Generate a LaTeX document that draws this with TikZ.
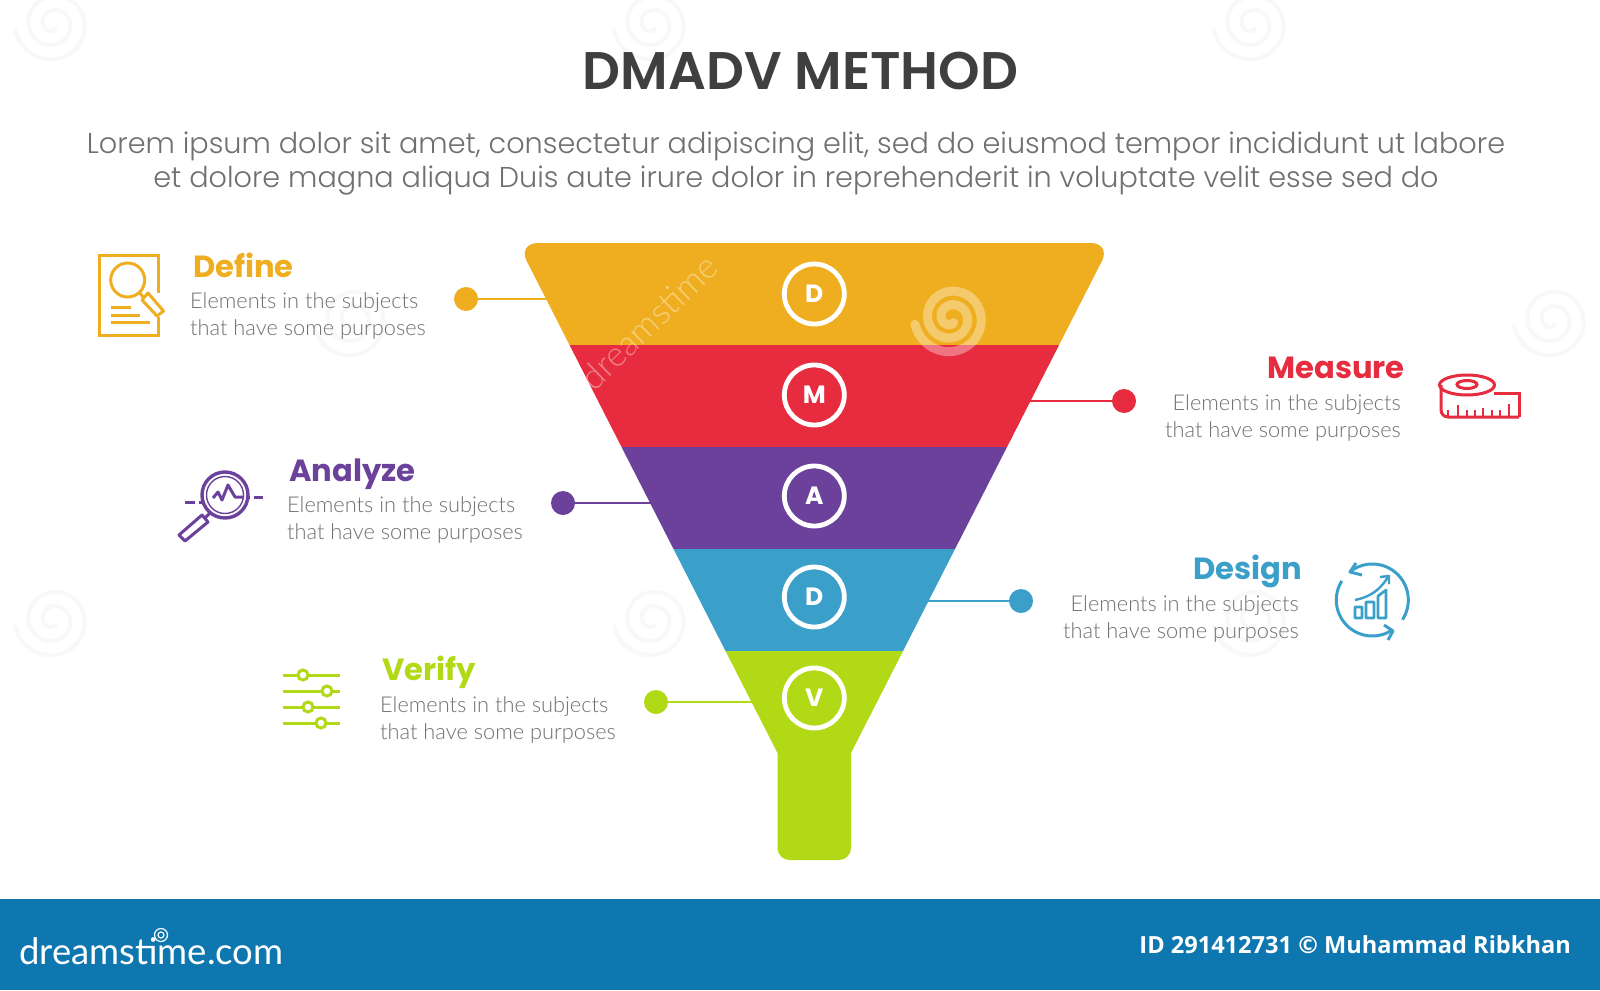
\documentclass[tikz,border=0pt]{standalone}
\usepackage{fontspec}
\setmainfont{Lato}
\newfontfamily\ptitle{Poppins}[UprightFont=* SemiBold]
\newfontfamily\phead{Poppins}[UprightFont=* Bold]
\newfontfamily\psub{Poppins}[UprightFont=* Light]
\newfontfamily\lbody{Lato}[UprightFont=* Light]
\newfontfamily\osans{Open Sans}[UprightFont=* Bold]
\definecolor{cDefine}{HTML}{EFAE1F}
\definecolor{cMeasure}{HTML}{E62C3E}
\definecolor{cAnalyze}{HTML}{6C419B}
\definecolor{cDesign}{HTML}{3A9FC9}
\definecolor{cVerify}{HTML}{B2D916}
\definecolor{cBar}{HTML}{0E77B0}
\definecolor{cTitle}{HTML}{3F3F3F}
\definecolor{cText}{HTML}{707070}
\definecolor{cFaint}{HTML}{F8F8F8}
\newcommand{\wmspiral}[4]{% x, y, scale, style
  \draw[#4,line cap=round,line join=round] plot[domain=0:830,samples=70,smooth] ({#1+#3*(5+0.036*\x)*cos(\x+60)},{#2+#3*(5+0.036*\x)*sin(\x+60)});}
\tikzset{
  x=1pt,y=-1pt,
  titletext/.style={font=\ptitle\fontsize{52.9}{52.9}\selectfont,text=cTitle,inner sep=0pt},
  subtext/.style={font=\psub\fontsize{28.7}{34.8}\selectfont,text=cText,inner sep=0pt,align=center},
  heading/.style={font=\phead\fontsize{30.6}{30.6}\selectfont,inner sep=0pt},
  bodyL/.style={font=\lbody\fontsize{21.8}{27}\selectfont,text=cText,inner sep=0pt,align=left,anchor=west},
  bodyR/.style={font=\lbody\fontsize{21.8}{27}\selectfont,text=cText,inner sep=0pt,align=right,anchor=east},
  badge/.style={circle,draw=white,line width=4.8pt,minimum size=60pt,inner sep=0pt,font=\phead\fontsize{25}{25}\selectfont,text=white},
  dot/.style={circle,fill=#1,minimum size=24pt,inner sep=0pt},
  link/.style={draw=#1,line width=2.8pt},
  icon/.style={draw=#1,line width=3pt,fill=none},
  faintspiral/.style={draw=cFaint,line width=4pt},
}
\begin{document}
\begin{tikzpicture}
\useasboundingbox (0,0) rectangle (1600,990);
\fill[white] (0,0) rectangle (1600,990);
% faint watermark spirals
\foreach \wx/\wy in {53/24,652/24,1252/24,352/320,1552/320,53/620,652/620,1252/620}{\wmspiral{\wx}{\wy}{1.1}{faintspiral}}
\node[titletext] (title) at (800.5,71) {DMADV METHOD};
\node[subtext] (sub) at (796,163.5) {Lorem ipsum dolor sit amet, consectetur adipiscing elit, sed do eiusmod tempor incididunt ut labore\\et dolore magna aliqua Duis aute irure dolor in reprehenderit in voluptate velit esse sed do};
% funnel
\begin{scope}
\clip (538,243) -- (1090.6,243) .. controls (1101.6,243) and (1107,251) .. (1102,260.8) -- (851,753) -- (851,848) .. controls (851,854.6) and (845.6,860) .. (839,860) -- (789.5,860) .. controls (782.9,860) and (777.5,854.6) .. (777.5,848) -- (777.5,753) -- (526.6,260.8) .. controls (521.6,251) and (527,243) .. (538,243) -- cycle;
\fill[cDefine] (500,240) rectangle (1120,345);
\fill[cMeasure] (500,345) rectangle (1120,447);
\fill[cAnalyze] (500,447) rectangle (1120,549);
\fill[cDesign] (500,549) rectangle (1120,651);
\fill[cVerify] (500,651) rectangle (1120,865);
% funnel watermark
\node[font=\lbody\fontsize{35}{35}\selectfont,text=white,text opacity=.4,rotate=44,inner sep=0pt] (wm) at (649,322) {dreamstime};
\wmspiral{951}{318}{1.05}{draw=white,draw opacity=.35,line width=9pt}
\end{scope}
\node[badge] (bD) at (814.3,294) {D};
\node[badge] (bM) at (814.3,395) {M};
\node[badge] (bA) at (814.3,496) {A};
\node[badge] (bE) at (814.3,597) {D};
\node[badge] (bV) at (814.3,698) {V};
% connectors
\node[dot=cDefine] (dD) at (466,299) {};
\coordinate (eD) at (549,299);
\draw[link=cDefine] (dD) -- (eD);
\node[dot=cMeasure] (dM) at (1124,401) {};
\coordinate (eM) at (1028,401);
\draw[link=cMeasure] (dM) -- (eM);
\node[dot=cAnalyze] (dA) at (563,503) {};
\coordinate (eA) at (652,503);
\draw[link=cAnalyze] (dA) -- (eA);
\node[dot=cDesign] (dE) at (1021,601) {};
\coordinate (eE) at (926,601);
\draw[link=cDesign] (dE) -- (eE);
\node[dot=cVerify] (dV) at (656,702) {};
\coordinate (eV) at (753,702);
\draw[link=cVerify] (dV) -- (eV);
% labels
\node[heading,text=cDefine,anchor=base west] (hD) at (193,277) {Define};
\node[bodyL] (tD) at (190,316) {Elements in the subjects\\that have some purposes};
\node[heading,text=cMeasure,anchor=base east] (hM) at (1405,378) {Measure};
\node[bodyR] (tM) at (1401,418) {Elements in the subjects\\that have some purposes};
\node[heading,text=cAnalyze,anchor=base west] (hA) at (289,481) {Analyze};
\node[bodyL] (tA) at (287,520) {Elements in the subjects\\that have some purposes};
\node[heading,text=cDesign,anchor=base east] (hE) at (1302,579) {Design};
\node[bodyR] (tE) at (1299,619) {Elements in the subjects\\that have some purposes};
\node[heading,text=cVerify,anchor=base west] (hV) at (382,680) {Verify};
\node[bodyL] (tV) at (380,720) {Elements in the subjects\\that have some purposes};
% Define icon
\draw[icon=cDefine] (158,293) -- (158,255) -- (99,255) -- (99,335) -- (158,335) -- (158,317);
\draw[icon=cDefine] (127.7,280) circle (17);
\draw[icon=cDefine] (140,293) -- (143,297);
\draw[icon=cDefine,line join=round] (148,293) -- (163.5,311) -- (157,316) -- (142,300) -- cycle;
\draw[icon=cDefine] (111,307) -- (131,307) (111,315) -- (140,315) (111,322) -- (150,322);
% Analyze icon
\draw[icon=cAnalyze,line width=3.4pt] (225,495) circle (23);
\draw[icon=cAnalyze,line width=1.4pt] (225,495) circle (18.5);
\draw[icon=cAnalyze,line join=round] (213,498) -- (218,492) -- (222,500) -- (228,485) -- (235,497) -- (244,497);
\draw[icon=cAnalyze] (185,502) -- (195,502) (199,502) -- (204,502) (246,497) -- (250,497) (254,497) -- (263,497);
\draw[icon=cAnalyze] (205,518) -- (211,512);
\draw[icon=cAnalyze,line join=round] (179,535) -- (202,515) -- (208,522) -- (185,541) -- cycle;
% Measure icon
\draw[icon=cMeasure] (1467,385) ellipse (27.5 and 10);
\draw[icon=cMeasure] (1467,384.5) ellipse (10 and 4);
\draw[icon=cMeasure,rounded corners=7pt] (1441,385) -- (1441,417) -- (1519,417);
\draw[icon=cMeasure] (1494,393) -- (1519,393) -- (1519,417);
\draw[icon=cMeasure,line width=2pt] (1448,417) -- (1448,410) (1458,417) -- (1458,405) (1467,417) -- (1467,410) (1475,417) -- (1475,410) (1483,417) -- (1483,408) (1492,417) -- (1492,410) (1500,417) -- (1500,410) (1509,417) -- (1509,404);
% Design icon
\draw[icon=cDesign] plot[domain=-128:33,samples=40] ({1372.3+36*cos(\x)},{600+36*sin(\x)});
\draw[icon=cDesign] plot[domain=58:212,samples=40] ({1372.3+36*cos(\x)},{600+36*sin(\x)});
\draw[icon=cDesign,line join=round] (1356,563) -- (1350,572) -- (1362,575);
\draw[icon=cDesign,line join=round] (1384,625) -- (1393,631) -- (1388,640);
\draw[icon=cDesign,line width=2.6pt,line join=round] (1355,607) rectangle (1362,618) (1366,602) rectangle (1374,618) (1378,596) -- (1386,590) -- (1386,618) -- (1378,618) -- cycle;
\draw[icon=cDesign,line width=2.4pt] (1355,600) .. controls (1370,597) and (1380,590) .. (1388,577);
\draw[icon=cDesign,line width=2.4pt,line join=round] (1380,577) -- (1389,576) -- (1389,584);
% Verify icon
\draw[icon=cVerify] (283,675) -- (340,675) (283,691) -- (340,691) (283,707) -- (340,707) (283,723) -- (340,723);
\foreach \px/\py in {303/675,327/691,308/707,321/723}{\draw[icon=cVerify,fill=white] (\px,\py) circle (5);}
% footer
\fill[cBar] (0,899) rectangle (1600,990);
\node[font=\rmfamily\fontsize{36.5}{36.5}\selectfont,text=white,inner sep=0pt,anchor=base west] (brand) at (19,964) {dreamstime.com};
\draw[white,line width=1.2pt] (161,935) circle (6.5) (161,935) circle (3);
\node[font=\osans\fontsize{23.6}{23.6}\selectfont,text=white,inner sep=0pt,anchor=east] (credit) at (1571,945) {ID 291412731 © Muhammad Ribkhan};
\end{tikzpicture}
\end{document}
